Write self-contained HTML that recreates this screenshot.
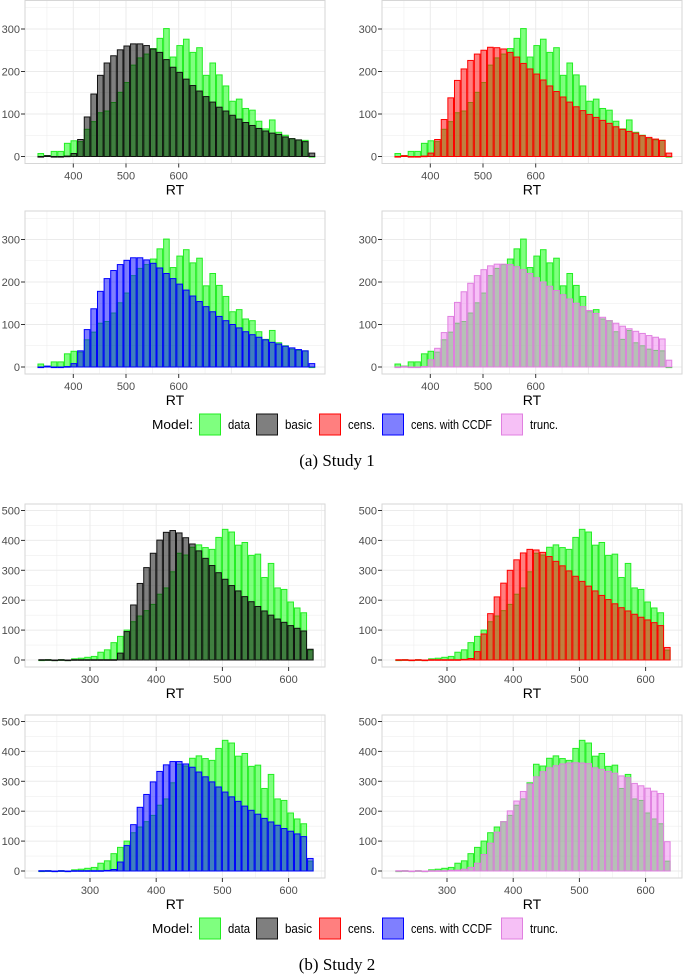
<!DOCTYPE html>
<html><head><meta charset="utf-8"><style>
html,body{margin:0;padding:0;background:#fff;}
svg{display:block;font-family:"Liberation Sans",sans-serif;}
</style></head><body>
<svg id="fig" width="685" height="975" viewBox="0 0 685 975" xmlns="http://www.w3.org/2000/svg"></svg>
<script>
const s1Data  = [7,2,12,12,31,37,35,64,82,103,107,127,151,174,215,232,241,254,278,301,234,261,276,245,256,191,220,192,166,130,135,113,109,83,65,86,57,50,42,39,38,0];
const s1Basic = [0,2,0,0,1,7,40,93,147,191,220,237,251,260,265,265,261,253,245,228,210,198,182,167,154,141,128,116,107,97,88,80,73,66,60,55,52,46,42,39,35,8];
const s1Cens  = [0,2,0,0,1,8,40,87,138,179,206,226,241,250,257,256,253,245,234,219,206,194,180,166,153,140,128,117,108,99,92,85,78,70,64,59,55,49,45,41,38,8];
const s1Ccdf  = [0,2,0,0,1,8,38,88,137,178,208,227,241,251,257,257,252,244,233,220,208,195,181,167,154,142,130,119,109,100,92,83,76,70,64,58,54,49,45,41,38,8];
const s1Trunc = [0,1,0,0,1,17,44,81,119,152,177,197,215,229,238,242,242,241,236,229,220,210,200,190,180,170,160,150,142,133,126,117,109,103,96,90,84,79,74,70,66,16];
const s2Data  = [0,1,0,1,0,4,6,9,12,26,34,58,79,100,128,147,165,186,220,241,295,357,351,377,385,376,370,410,437,428,384,393,350,354,276,323,241,236,194,174,158,33];
const s2Basic = [1,1,0,1,0,1,1,1,1,1,1,1,23,95,184,256,309,357,401,427,433,425,409,388,365,340,316,292,270,249,231,212,195,179,164,150,137,126,115,106,97,36];
const s2Cens  = [1,1,0,1,0,1,1,1,1,1,2,5,28,87,155,211,257,300,335,358,370,368,360,346,330,315,298,280,263,247,231,216,202,188,175,164,153,143,134,125,115,42];
const s2Ccdf  = [1,1,0,1,0,1,1,1,1,1,2,5,30,85,155,213,256,298,333,355,366,366,358,347,331,315,298,281,264,248,233,217,203,190,176,164,153,142,133,124,115,42];
const s2Trunc = [1,1,0,1,0,1,1,1,2,3,6,12,26,55,93,130,165,201,234,266,291,315,332,345,352,358,361,362,361,359,345,340,333,327,318,312,293,285,277,267,259,98];
const s1YTicks = [0,100,200,300];
const s2YTicks = [0,100,200,300,400,500];
const s1XTicks = [400,500,600];
const s2XTicks = [300,400,500,600];
const modelNames = ["data","basic","cens.","cens. with CCDF","trunc."];

const NS="http://www.w3.org/2000/svg";
const svg=document.getElementById('fig');
function mk(tag,attrs,parent){const e=document.createElementNS(NS,tag);for(const k in attrs)e.setAttribute(k,attrs[k]);(parent||svg).appendChild(e);return e;}
const COLORS={data:["rgba(0,255,0,0.5)","#22ee22"],basic:["rgba(0,0,0,0.5)","#111"],cens:["rgba(255,0,0,0.5)","#f00"],ccdf:["rgba(0,0,255,0.5)","#00f"],trunc:["rgba(238,130,238,0.5)","#e080e0"]};

function panel(name,px,py,cfg,data,model,mkey){
  const W=300,H=163;
  const g=mk('g',{});
  
  
  const zeroY=py+H-7;
  const y=v=>zeroY-v*cfg.yScale;
  const x=v=>px+cfg.xRef+(v-cfg.xRefVal)*cfg.xScale;
  mk('rect',{x:px,y:py,width:W,height:H,fill:'#fff'},g);
  for(let v=cfg.gridX0; v<=cfg.gridX1; v+=50){
    const gl=mk('line',{x1:x(v),x2:x(v),y1:py,y2:py+H,stroke:'#ebebeb','stroke-width':v%100===0?1:0.5},g);
    
    
  }
  const ymax=cfg.yTicks[cfg.yTicks.length-1];
  for(let v=0; v<=ymax+50; v+=50){
    if(y(v)<py) break;
    const gl=mk('line',{x1:px,x2:px+W,y1:y(v),y2:y(v),stroke:'#ebebeb','stroke-width':v%100===0?1:0.5},g);
    
    
  }
  const bw=cfg.binW*cfg.xScale;
  function bars(arr,key,label){
    const [fill,stroke]=COLORS[key];
    arr.forEach((v,i)=>{
      const x0=x(cfg.binStart+i*cfg.binW);
      const r=mk('rect',{x:x0+0.5,y:y(v),width:bw-1,height:Math.max(v*cfg.yScale,0.6),fill:fill,stroke:stroke,'stroke-width':1},g);
      
      
    });
  }
  bars(data,'data','data');
  bars(model,mkey,mkey);
  const br=mk('rect',{x:px,y:py,width:W,height:H,fill:'none',stroke:'#d6d6d6','stroke-width':1},g);
  
  
  cfg.yTicks.forEach(v=>{
    mk('line',{x1:px-4,x2:px,y1:y(v),y2:y(v),stroke:'#333','stroke-width':1},g);
    const t=mk('text',{x:px-5,y:y(v)+4,'font-size':11,fill:'#4d4d4d','text-anchor':'end'},g);
    t.textContent=v;
    
    
  });
  cfg.xTicks.forEach(v=>{
    mk('line',{x1:x(v),x2:x(v),y1:py+H,y2:py+H+4,stroke:'#333','stroke-width':1},g);
    const t=mk('text',{x:x(v),y:py+H+16,'font-size':11,fill:'#4d4d4d','text-anchor':'middle'},g);
    t.textContent=v;
    
    
  });
  const at=mk('text',{x:px+W/2,y:py+H+31,'font-size':14,fill:'#000','text-anchor':'middle'},g);
  at.textContent='RT';
  
  
}
const c1={yScale:0.425,xRef:48.3,xRefVal:400,xScale:0.527,binStart:332,binW:12.55,gridX0:350,gridX1:700,yTicks:s1YTicks,xTicks:s1XTicks};
const c2={yScale:0.299,xRef:65,xRefVal:300,xScale:0.662,binStart:222,binW:9.9,gridX0:250,gridX1:650,yTicks:s2YTicks,xTicks:s2XTicks};
panel('study1-basic-panel',25,0.5,c1,s1Data,s1Basic,'basic');
panel('study1-cens-panel',382,0.5,c1,s1Data,s1Cens,'cens');
panel('study1-ccdf-panel',25,211,c1,s1Data,s1Ccdf,'ccdf');
panel('study1-trunc-panel',382,211,c1,s1Data,s1Trunc,'trunc');
panel('study2-basic-panel',25,504,c2,s2Data,s2Basic,'basic');
panel('study2-cens-panel',382,504,c2,s2Data,s2Cens,'cens');
panel('study2-ccdf-panel',25,715,c2,s2Data,s2Ccdf,'ccdf');
panel('study2-trunc-panel',382,715,c2,s2Data,s2Trunc,'trunc');

function legend(ty,caption,capName){
  const g=mk('g',{});
  
  
  const m=mk('text',{x:152,y:ty+15,'font-size':13,fill:'#000',textLength:41,lengthAdjust:'spacingAndGlyphs'},g);
  m.textContent='Model:';
  
  
  const keys=['data','basic','cens','ccdf','trunc'];
  const sx=[199,256,319,382,501];
  const tl=[22,27,27,81,28];
  keys.forEach((k,i)=>{
    const r=mk('rect',{x:sx[i]+0.5,y:ty,width:21,height:21,fill:COLORS[k][0],stroke:COLORS[k][1],'stroke-width':1},g);
    
    
    const t=mk('text',{x:sx[i]+29,y:ty+15,'font-size':13,fill:'#000',textLength:tl[i],lengthAdjust:'spacingAndGlyphs'},g);
    t.textContent=modelNames[i];
    
    
  });
  const c=mk('text',{x:337,y:ty+52,'font-size':17,fill:'#000','text-anchor':'middle','font-family':'"Liberation Serif",serif'},svg);
  c.textContent=caption;
  
  
}
legend(414,'(a)  Study 1','caption-study1');
legend(918,'(b)  Study 2','caption-study2');
</script>
</body></html>
